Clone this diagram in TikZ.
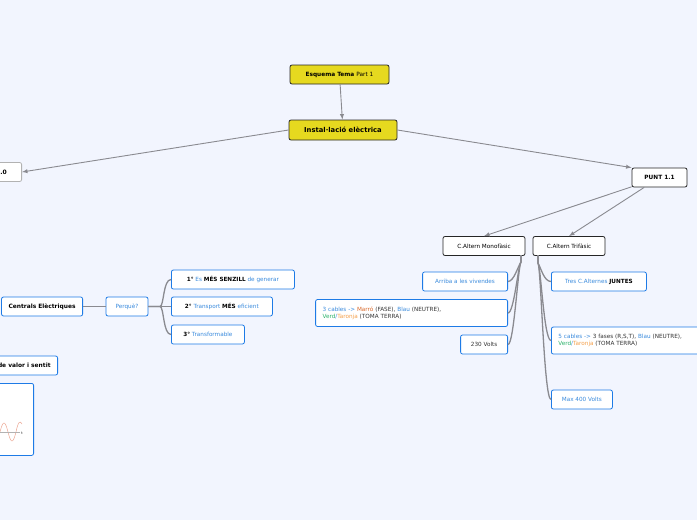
\documentclass[tikz,border=0pt]{standalone}
\usepackage{fontspec}
\setmainfont{DejaVu Sans}
\definecolor{bg}{HTML}{F2F5FE}
\definecolor{bl}{HTML}{3A8BDD}
\definecolor{bd}{HTML}{1E7BE6}
\definecolor{yl}{HTML}{E6D91F}
\definecolor{ln}{HTML}{8A8A90}
\definecolor{mar}{HTML}{D9692A}
\definecolor{vd}{HTML}{2DB36B}
\definecolor{tar}{HTML}{F5A04A}
\begin{document}
\begin{tikzpicture}[x=1pt,y=-1pt,
 base/.style={draw,rounded corners=2pt,fill=white,font=\fontsize{5.7}{7}\selectfont,inner xsep=7pt,inner ysep=3pt,minimum height=19pt,line width=0.8pt},
 bbox/.style={base,draw=bd,text=bl},
 kbox/.style={base,draw=black!85,text=black},
 ybox/.style={base,fill=yl,draw=black!85,font=\fontsize{5.8}{7}\selectfont\bfseries},
 arr/.style={draw=ln,line width=0.9pt,-{latex}},
 br/.style={draw=ln,line width=1.3pt}]
\fill[bg] (0,0) rectangle (697,520);
\useasboundingbox (0,0) rectangle (697,520);
\clip (0,0) rectangle (697,520);
\node[ybox,minimum width=99pt] (esq) at (339.5,74.5) {Esquema Tema \mdseries Part 1};
\node[ybox,minimum width=108pt,minimum height=20pt,font=\fontsize{6.8}{8}\selectfont\bfseries] (ins) at (343,130) {Instal·lació elèctrica};
\node[base,draw=black!30,anchor=east,font=\fontsize{6}{7}\selectfont\bfseries,minimum width=40pt,align=right] (u10) at (22,172) {1.0};
\node[kbox,font=\fontsize{5.8}{7}\selectfont\bfseries,minimum width=55pt] (p11) at (659.5,177.5) {PUNT 1.1};
\node[kbox,minimum width=82pt,inner xsep=2pt] (mono) at (484,246) {C.Altern Monofàsic};
\node[kbox,minimum width=72pt,inner xsep=2pt] (tri) at (569,246) {C.Altern Trifàsic};
\draw[arr] (esq) -- (ins);
\draw[arr] (ins.west) -- (u10.east);
\draw[arr] (ins.east) -- (p11.north west);
\draw[arr] (p11) -- (mono.north);
\draw[arr] (p11) -- (tri.north);
% mono children
\node[bbox,anchor=east,minimum width=85pt,inner xsep=2pt] (arr1) at (508,281.5) {Arriba a les vivendes};
\node[bbox,anchor=east,minimum height=27pt,align=left,text width=178pt] (cab3) at (508,313) {3 cables -> \textcolor{mar}{Marró} \textcolor{black!80}{(FASE),} Blau \textcolor{black!80}{(NEUTRE),}\\\textcolor{vd}{Verd}/\textcolor{tar}{Taronja} \textcolor{black!80}{(TOMA TERRA)}};
\node[bbox,anchor=east,minimum width=47pt,inner xsep=2pt,text=black!80] (v230) at (508,344.5) {230 Volts};
\coordinate (ms) at (521,255);
\coordinate (mt) at (521,262);
\foreach \n in {arr1,cab3,v230}{\draw[br] (ms) -- (mt) .. controls (518,266) and ([xshift=6pt]\n.east) .. (\n.east);}
% tri children
\node[bbox,anchor=west,minimum width=95pt,inner xsep=2pt] (tres) at (551,281.5) {Tres C.Alternes \textcolor{black}{\bfseries JUNTES}};
\node[bbox,anchor=west,minimum height=27pt,align=left,text width=160pt] (cab5) at (551,340.5) {5 cables -> \textcolor{black!80}{3 fases (R,S,T),} Blau \textcolor{black!80}{(NEUTRE),}\\\textcolor{vd}{Verd}/\textcolor{tar}{Taronja} \textcolor{black!80}{(TOMA TERRA)}};
\node[bbox,anchor=west,minimum width=61pt,inner xsep=2pt] (m400) at (551,399.5) {Max 400 Volts};
\coordinate (ts) at (538,255);
\coordinate (tt) at (538,263);
\foreach \n in {tres,cab5,m400}{\draw[br] (ts) -- (tt) .. controls (541,268) and ([xshift=-7pt]\n.west) .. (\n.west);}
% left part
\node[bbox,anchor=east,text=black,font=\fontsize{5.9}{7}\selectfont\bfseries,align=right] (cen) at (83,306.5) {Centrals Elèctriques};
\node[bbox,minimum width=42pt,inner xsep=2pt] (per) at (127,306.5) {Perquè?};
\node[bbox,anchor=west,minimum width=123pt,inner xsep=2pt] (a1) at (171,279.5) {\textcolor{black}{\bfseries 1°} Es \textcolor{black}{\bfseries MÉS SENZILL} de generar};
\node[bbox,anchor=west,minimum width=101pt,inner xsep=2pt] (a2) at (171,306.5) {\textcolor{black}{\bfseries 2°} Transport \textcolor{black}{\bfseries MÉS} eficient};
\node[bbox,anchor=west,minimum width=73pt,inner xsep=2pt] (a3) at (171,334.5) {\textcolor{black}{\bfseries 3°} Transformable};
\draw[br] (cen) -- (per);
\coordinate (pj) at (160,306.5);
\foreach \n in {a1,a2,a3}{\draw[br] (per.east) -- (pj) .. controls (164,306.5) and ([xshift=-8pt]\n.west) .. (\n.west);}
\node[bbox,anchor=east,text=black,font=\fontsize{5.9}{7}\selectfont\bfseries,align=right] (val) at (58,365.5) {de valor i sentit};
\node[bbox,anchor=north east,minimum width=80pt,minimum height=72pt] (img) at (34,383) {};
\draw[red!40!brown!50,line width=0.5pt] (0,432) .. controls (3,420) and (5,420) .. (8,432) .. controls (11,444) and (13,444) .. (16,432) .. controls (18,422) and (20,420) .. (22,424);
\draw[black!30,line width=0.3pt] (0,432) -- (20,432);
\node[font=\fontsize{3.5}{4}\selectfont] (t) at (22,433) {t};
\end{tikzpicture}
\end{document}
